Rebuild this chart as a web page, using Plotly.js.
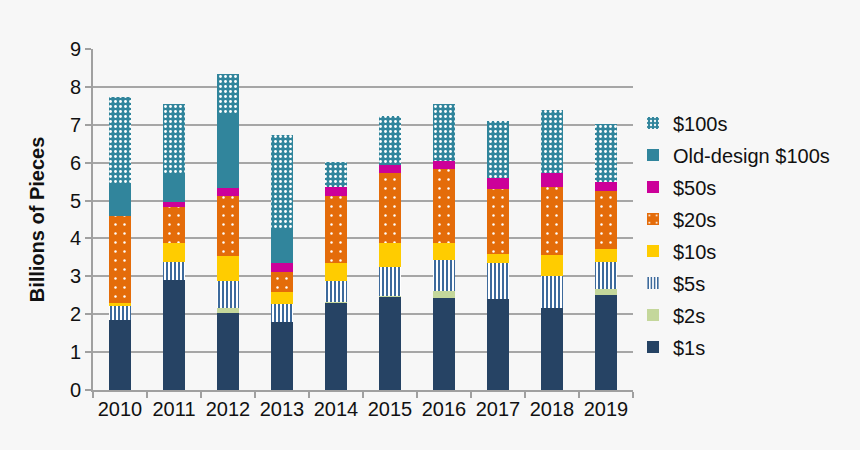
<!DOCTYPE html>
<html>
<head>
<meta charset="utf-8">
<script src="https://cdn.plot.ly/plotly-3.0.1.min.js"></script>
<style>html,body{margin:0;padding:0;background:#f7f7f7;}#chart{width:860px;height:450px;}</style>
</head>
<body>
<div id="chart"></div>
<script>
var years = ['2010','2011','2012','2013','2014','2015','2016','2017','2018','2019'];
var ones        = [1.86, 2.91, 2.04, 1.79, 2.29, 2.46, 2.42, 2.41, 2.16, 2.51];
var twos        = [0.00, 0.00, 0.12, 0.00, 0.02, 0.02, 0.19, 0.00, 0.00, 0.15];
var fives       = [0.37, 0.48, 0.73, 0.48, 0.56, 0.76, 0.81, 0.93, 0.84, 0.72];
var tens        = [0.07, 0.50, 0.64, 0.32, 0.49, 0.63, 0.47, 0.26, 0.57, 0.34];
var twenties    = [2.28, 0.93, 1.58, 0.52, 1.77, 1.85, 1.94, 1.71, 1.80, 1.53];
var fifties     = [0.00, 0.15, 0.23, 0.25, 0.24, 0.23, 0.22, 0.28, 0.36, 0.25];
var oldHundreds = [0.86, 0.73, 1.98, 0.89, 0.00, 0.00, 0.00, 0.00, 0.00, 0.00];
var hundreds    = [2.30, 1.86, 1.03, 2.49, 0.64, 1.28, 1.51, 1.52, 1.66, 1.53];
var seriesNames = ['$1s','$2s','$5s','$10s','$20s','$50s','Old-design $100s','$100s'];

function tr(name, vals, color, pattern, rank) {
  var m = {color: color, line: {width: 0}};
  if (pattern) m.pattern = pattern;
  return {type: 'bar', name: name, x: years, y: vals, marker: m, legendgroup: 'g' + rank, legendrank: rank, hoverinfo: 'skip'};
}

var data = [
  tr(seriesNames[0], ones, '#264364', null, 8),
  tr(seriesNames[1], twos, '#c4d79b', null, 7),
  tr(seriesNames[2], fives, '#ffffff', {shape: '|', bgcolor: '#ffffff', fgcolor: '#3d6a9c', size: 4, solidity: 0.5, fillmode: 'replace'}, 6),
  tr(seriesNames[3], tens, '#ffcc00', null, 5),
  tr(seriesNames[4], twenties, '#e46c0a', {shape: '.', bgcolor: '#e46c0a', fgcolor: '#ffffff', size: 9, solidity: 0.06, fillmode: 'replace'}, 4),
  tr(seriesNames[5], fifties, '#cc0099', null, 3),
  tr(seriesNames[6], oldHundreds, '#31859c', null, 2),
  tr(seriesNames[7], hundreds, '#31859c', {shape: '.', bgcolor: '#31859c', fgcolor: '#ffffff', size: 5, solidity: 0.25, fillmode: 'replace'}, 1)
];

var layout = {
  width: 860, height: 450,
  paper_bgcolor: '#f7f7f7', plot_bgcolor: '#f7f7f7',
  font: {family: 'Liberation Sans, Arial, sans-serif', size: 20, color: '#111111'},
  margin: {l: 93, r: 227, t: 49, b: 60},
  barmode: 'stack', bargap: 0.6,
  showlegend: true,
  legend: {x: 1.0, xanchor: 'left', y: 0.84, yanchor: 'top', traceorder: 'grouped', tracegroupgap: 3,
           bgcolor: 'rgba(0,0,0,0)', font: {size: 20, color: '#111111'}, itemwidth: 30},
  xaxis: {type: 'category', showline: true, linecolor: '#a0a0a0', linewidth: 2,
          ticks: 'outside', tickson: 'boundaries', ticklen: 6, tickcolor: '#a0a0a0', tickwidth: 2,
          showgrid: false, tickangle: 0, tickfont: {size: 20}},
  yaxis: {range: [0, 9], dtick: 1, showline: true, linecolor: '#a0a0a0', linewidth: 2,
          ticks: 'outside', ticklen: 6, tickcolor: '#a0a0a0', tickwidth: 2,
          showgrid: true, gridcolor: '#a6a6a6', gridwidth: 2, zeroline: false,
          tickfont: {size: 20},
          title: {text: '<b>Billions of Pieces</b>', font: {size: 20}, standoff: 20}}
};

Plotly.newPlot('chart', data, layout, {displayModeBar: false, staticPlot: true});
</script>
</body>
</html>
